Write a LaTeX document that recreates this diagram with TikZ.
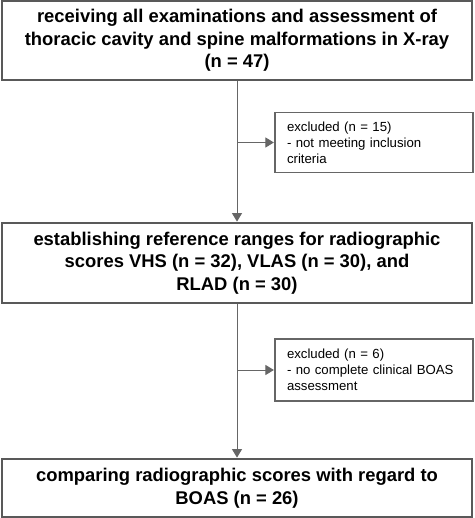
\documentclass[tikz,border=0pt]{standalone}
\usepackage{fontspec}
\setmainfont{Liberation Sans}
\usetikzlibrary{arrows.meta}
\begin{document}
\begin{tikzpicture}[x=1pt,y=-1pt,
  mainbox/.style={draw=black!65, line width=1.8pt, fill=white, minimum width=470pt, align=center, inner sep=0pt,
     font=\fontsize{18.4}{22.5}\selectfont\bfseries},
  exbox/.style={draw=black!60, line width=1.2pt, fill=white, minimum width=198pt, text width=174pt, align=left, inner sep=0pt,
     font=\fontsize{13.2}{15.8}\selectfont},
  conn/.style={draw=black!60, line width=1pt, -{Triangle[length=8.5pt,width=10pt]}, shorten >=0.5pt}]
\useasboundingbox (0,0) rectangle (474,518);
\fill[white] (0,0) rectangle (474,518);
\node[mainbox, minimum height=79pt] (b1) at (237,40.5) {receiving all examinations and assessment of\\thoracic cavity and spine malformations in X-ray\\(n = 47)};
\node[mainbox, minimum height=80pt] (b2) at (237,263) {establishing reference ranges for radiographic\\scores VHS (n = 32), VLAS (n = 30), and\\RLAD (n = 30)};
\node[mainbox, minimum height=58pt] (b3) at (237,488) {comparing radiographic scores with regard to\\BOAS (n = 26)};
\node[exbox, minimum height=60pt] (e1) at (374,142.5) {excluded (n = 15)\\- not meeting inclusion\\criteria};
\node[exbox, minimum height=62pt] (e2) at (374,370) {excluded (n = 6)\\- no complete clinical BOAS\\assessment};
\coordinate (j1) at (237,142.5);
\coordinate (j2) at (237,370);
\draw[conn] (b1) -- (b2);
\draw[conn] (b2) -- (b3);
\draw[conn] (j1) -- (e1.west);
\draw[conn] (j2) -- (e2.west);
\end{tikzpicture}
\end{document}
